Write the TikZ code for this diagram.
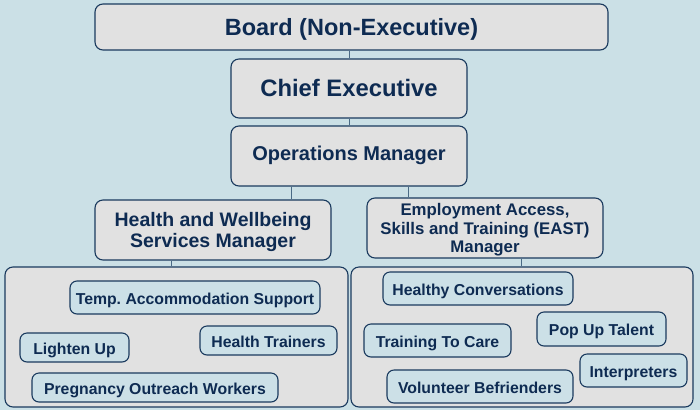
\documentclass[tikz,border=0pt]{standalone}
\usepackage{fontspec}
\setmainfont{Liberation Sans}
\definecolor{bgc}{HTML}{CBE0E6}
\definecolor{boxc}{HTML}{E1E1E1}
\definecolor{edgec}{HTML}{1A3A5E}
\definecolor{txtc}{HTML}{0E2B52}
\definecolor{linec}{HTML}{4A6A85}
\definecolor{itemc}{HTML}{CCE0E7}
\begin{document}
\begin{tikzpicture}[x=1pt,y=-1pt,
  box/.style={draw=edgec, line width=1.1pt, fill=boxc, rounded corners=8pt, inner sep=0pt, text=txtc, align=center},
  multiline/.style={text depth=0pt},
  item/.style={draw=edgec, line width=1.1pt, fill=itemc, rounded corners=7pt, inner sep=0pt, text=txtc, font=\bfseries\fontsize{15.8}{18}\selectfont, text height=13.4pt, text depth=0pt},
  conn/.style={draw=linec, line width=1pt}]
\useasboundingbox (0,0) rectangle (700,410);
\fill[bgc] (0,0) rectangle (700,410);
% top chain
\node[box, text height=16.9pt, text depth=0.5pt, minimum width=513pt, minimum height=46pt, font=\bfseries\fontsize{23.5}{26}\selectfont] (board) at (351.5,27) {Board (Non-Executive)};
\node[box, text height=17.1pt, text depth=2pt, minimum width=236pt, minimum height=59pt, font=\bfseries\fontsize{23.8}{26}\selectfont] (chief) at (349,88.5) {Chief Executive};
\node[box, text height=14.4pt, text depth=5pt, minimum width=236pt, minimum height=60pt, font=\bfseries\fontsize{20}{22}\selectfont] (ops) at (349,156) {Operations Manager};
% managers
\node[box, multiline, minimum width=236pt, minimum height=60pt, font=\bfseries\fontsize{19.5}{20.5}\selectfont] (hw) at (213,230) {Health and Wellbeing\\Services Manager};
\node[box, multiline, minimum width=236pt, minimum height=60pt, font=\bfseries\fontsize{16.8}{18.7}\selectfont] (east) at (485,228) {Employment Access,\\Skills and Training (EAST)\\Manager};
% groups
\node[box, minimum width=343pt, minimum height=140pt] (lgrp) at (176.5,337) {};
\node[box, minimum width=342pt, minimum height=140pt] (rgrp) at (522,337) {};
% left items
\node[item, minimum width=250pt, minimum height=33pt] (temp) at (195,297.5) {Temp.\ Accommodation Support};
\node[item, minimum width=109pt, minimum height=29pt] (light) at (74.5,347.5) {Lighten Up};
\node[item, minimum width=137pt, minimum height=29pt] (trainers) at (268.5,340.5) {Health Trainers};
\node[item, minimum width=246pt, minimum height=29pt] (preg) at (155,387.5) {Pregnancy Outreach Workers};
% right items
\node[item, minimum width=190pt, minimum height=33pt] (healthy) at (478,288.5) {Healthy Conversations};
\node[item, minimum width=147pt, minimum height=33pt] (care) at (437.5,340.5) {Training To Care};
\node[item, minimum width=129pt, minimum height=34pt] (popup) at (601.5,329) {Pop Up Talent};
\node[item, minimum width=107pt, minimum height=33pt] (interp) at (633.5,370.5) {Interpreters};
\node[item, minimum width=186pt, minimum height=33pt] (vol) at (480,386.5) {Volunteer Befrienders};
% connectors
\draw[conn] (chief.north) -- (chief.north |- board.south);
\draw[conn] (ops.north) -- (chief.south);
\draw[conn] ([xshift=-58pt]ops.south) -- ([xshift=-58pt]ops.south |- hw.north);
\draw[conn] ([xshift=59pt]ops.south) -- ([xshift=59pt]ops.south |- east.north);
\draw[conn] ([xshift=-42pt]hw.south) -- ([xshift=-42pt]hw.south |- lgrp.north);
\draw[conn] ([xshift=36pt]east.south) -- ([xshift=36pt]east.south |- rgrp.north);
\end{tikzpicture}
\end{document}
